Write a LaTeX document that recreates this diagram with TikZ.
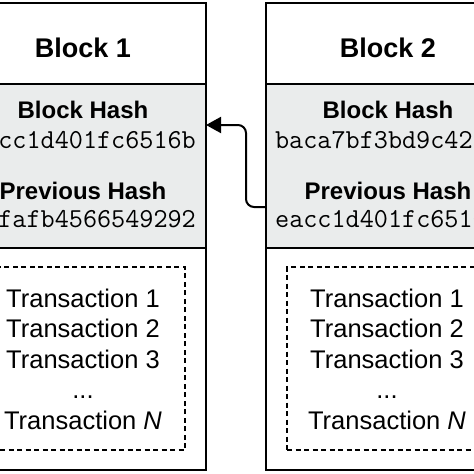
\documentclass[tikz,border=0pt]{standalone}
\usepackage{fontspec}
\setmainfont{Liberation Sans}
\usetikzlibrary{arrows.meta}
\definecolor{hashgray}{RGB}{234,236,236}
\tikzset{
  sect/.style={draw=black, line width=2pt, minimum width=246pt, inner sep=0pt, outer sep=0pt},
  txbox/.style={draw=black, line width=1.8pt, dash pattern=on 5pt off 3.5pt, minimum width=202pt, minimum height=183pt, inner sep=0pt},
  titletext/.style={anchor=base, inner sep=0pt, font=\fontsize{27}{30}\selectfont\bfseries},
  labeltext/.style={anchor=base, inner sep=0pt, font=\fontsize{24}{28}\selectfont\bfseries},
  hashtext/.style={anchor=base, inner sep=0pt, font=\fontsize{27.4}{30}\selectfont\ttfamily},
  txtext/.style={anchor=base, inner sep=0pt, font=\fontsize{25.5}{30}\selectfont},
  link/.style={line width=2pt, rounded corners=8pt, -{Triangle[length=15pt,width=16pt]}}
}
\begin{document}
\begin{tikzpicture}[x=1pt,y=-1pt]
\useasboundingbox (0,0) rectangle (474,474);
\clip (0,0) rectangle (474,474);
\fill[white] (0,0) rectangle (474,474);
% Block 1
\node[sect, minimum height=81pt] (b1t) at (83,43.5) {};
\node[sect, fill=hashgray, minimum height=164pt] (b1h) at (83,166) {};
\node[sect, minimum height=222pt] (b1x) at (83,359) {};
\node[txbox] (b1d) at (84,358.5) {};
\node[titletext] (b1title) at (83,57) {Block 1};
\node[labeltext] (b1bhl) at (83,118) {Block Hash};
\node[hashtext] (b1bh) at (83,148) {eacc1d401fc6516b};
\node[labeltext] (b1phl) at (83,199) {Previous Hash};
\node[hashtext] (b1ph) at (83,227) {a4fafb4566549292};
\node[txtext] (b1t1) at (83,307) {Transaction 1};
\node[txtext] (b1t2) at (83,337.5) {Transaction 2};
\node[txtext] (b1t3) at (83,368) {Transaction 3};
\node[txtext] (b1t4) at (83,398) {...};
\node[txtext] (b1t5) at (83,429) {Transaction \textit{N}};
% Block 2
\node[sect, minimum height=81pt] (b2t) at (389,43.5) {};
\node[sect, fill=hashgray, minimum height=164pt] (b2h) at (389,166) {};
\node[sect, minimum height=222pt] (b2x) at (389,359) {};
\node[txbox] (b2d) at (388,358.5) {};
\node[titletext] (b2title) at (388,57) {Block 2};
\node[labeltext] (b2bhl) at (388,118) {Block Hash};
\node[hashtext] (b2bh) at (388,148) {baca7bf3bd9c42e1};
\node[labeltext] (b2phl) at (388,199) {Previous Hash};
\node[hashtext] (b2ph) at (388,227) {eacc1d401fc6516b};
\node[txtext] (b2t1) at (387,307) {Transaction 1};
\node[txtext] (b2t2) at (387,337.5) {Transaction 2};
\node[txtext] (b2t3) at (387,368) {Transaction 3};
\node[txtext] (b2t4) at (387,398) {...};
\node[txtext] (b2t5) at (387,429) {Transaction \textit{N}};
% link
\coordinate (src) at ([yshift=-41pt]b2h.west);
\coordinate (dst) at ([yshift=41pt]b1h.east);
\draw[link] (src) -- ++(-20,0) |- (dst);
\end{tikzpicture}
\end{document}
